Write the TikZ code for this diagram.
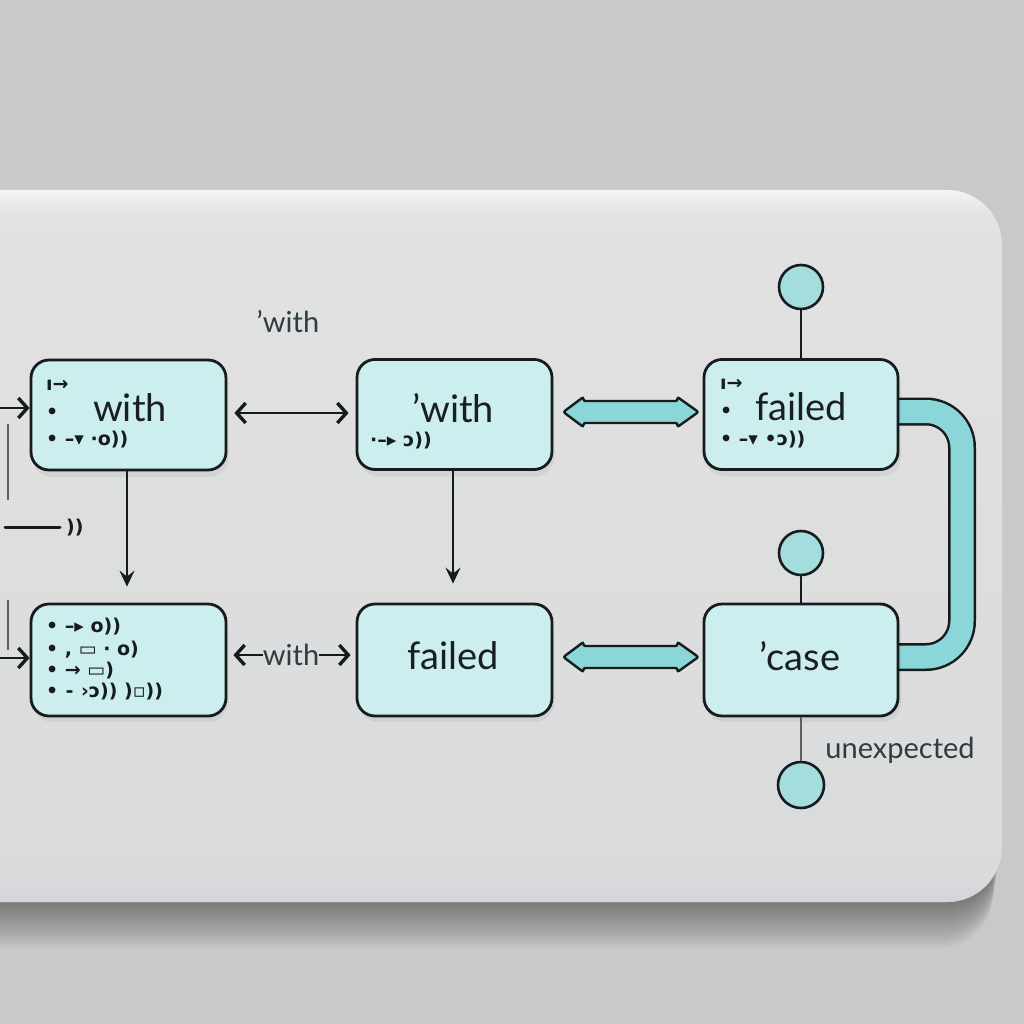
\documentclass[tikz,border=0pt]{standalone}
\usepackage{fontspec}
\setmainfont{Lato}
\newfontfamily\symf{DejaVu Sans}
\usetikzlibrary{arrows.meta}
\definecolor{bgc}{RGB}{203,201,199}
\definecolor{paneltop}{RGB}{226,226,226}
\definecolor{panelbot}{RGB}{217,218,219}
\definecolor{boxc}{RGB}{205,238,239}
\definecolor{cyanc}{RGB}{138,214,216}
\definecolor{circc}{RGB}{163,221,221}
\definecolor{linec}{RGB}{22,28,30}
\definecolor{textc}{RGB}{25,30,34}
\definecolor{labc}{RGB}{48,60,68}
\tikzset{
  box/.style={draw=linec, line width=2.8pt, fill=boxc, rounded corners=18pt,
    minimum width=195pt, minimum height=110pt, inner sep=0pt},
  circ/.style={circle, draw=linec, line width=2.6pt, fill=circc, minimum size=44pt, inner sep=0pt},
  maintxt/.style={font=\fontsize{38}{42}\selectfont, text=textc, inner sep=0pt},
  labtxt/.style={font=\fontsize{29}{32}\selectfont, text=labc, inner sep=0pt},
  marks/.style={font=\symf\bfseries\fontsize{19}{21}\selectfont, text=linec, anchor=west, inner sep=0pt},
  conn/.style={draw=linec, line width=2.6pt},
  chev/.style={-{Straight Barb[length=9pt,width=20pt,line width=3.4pt]}},
  dchev/.style={{Straight Barb[length=9pt,width=20pt,line width=3.4pt]}-{Straight Barb[length=9pt,width=20pt,line width=3.4pt]}},
  downarr/.style={-{Stealth[length=16pt,width=15pt,inset=6pt]}},
  fat/.style={draw=linec, line width=2.4pt, fill=cyanc, rounded corners=2pt},
  thinl/.style={draw=linec!70, line width=1.2pt},
}
\begin{document}
\begin{tikzpicture}[x=1pt,y=-1pt]
\useasboundingbox (0,0) rectangle (1024,1024);
\fill[bgc] (0,0) rectangle (1024,1024);
% soft shadow below panel
\foreach \i in {1,...,18}
  \fill[black, opacity=0.024, rounded corners=55pt] (-60,200) rectangle (1000-0.4*\i, 902+2.6*\i);
% panel
\shade[top color=paneltop, bottom color=panelbot, rounded corners=55pt] (-60,190) rectangle (1002,902);
\begin{scope}
  \clip[rounded corners=55pt] (-60,190) rectangle (1002,902);
  \shade[top color=white!60!paneltop, bottom color=paneltop] (-60,190) rectangle (1002,215);
  \shade[top color=panelbot, bottom color=black!10!blue!3!panelbot] (-60,880) rectangle (1002,902);
\end{scope}

% pipe between C and F
\coordinate (p1) at (898,411.5);
\coordinate (p2) at (898,657);
\draw[linec, line width=28pt, rounded corners=36pt] (p1) -- (962,411.5) -- (962,657) -- (p2);
\draw[cyanc, line width=23pt, rounded corners=36pt] (p1) -- (962,411.5) -- (962,657) -- (p2);

% box shadows
\foreach \x/\y in {128.5/415, 454.5/414.5, 801/414.5, 128.5/660, 454.5/660, 801/660}
  \fill[black, opacity=0.05, rounded corners=20pt] (\x-96,\y-50) rectangle (\x+100,\y+62);

% boxes
\node[box] (A) at (128.5,415) {};
\node[box] (B) at (454.5,414.5) {};
\node[box, minimum width=194pt] (C) at (801,414.5) {};
\node[box, minimum height=112pt] (D) at (128.5,660) {};
\node[box, minimum height=112pt] (E) at (454.5,660) {};
\node[box, minimum width=194pt, minimum height=112pt] (F) at (801,660) {};

% circles
\node[circ] (c1) at (801,287) {};
\node[circ] (c2) at (801,553) {};
\node[circ, minimum size=46pt] (c3) at (801,785) {};
\draw[conn, line width=2.2pt] (c1) -- (C);
\draw[conn, line width=2.2pt] (c2) -- (F);
\draw[thinl] (F) -- (c3);

% main texts
\node[maintxt] (tA) at (130,408) {with};
\node[maintxt] (tB) at (453,408) {’with};
\node[maintxt] (tC) at (801,407) {failed};
\node[maintxt] (tE) at (453,656) {failed};
\node[maintxt] (tF) at (800,656) {’case};

% marks in boxes
\node[marks] (mA1) at (46,385) {ı→};
\node[marks] (mA2) at (46,413) {•};
\node[marks] (mA3) at (46,440) {• –▾ ·o))};
\node[marks] (mB1) at (370,441) {·–▸ ɔ))};
\node[marks] (mC1) at (720,384) {ı→};
\node[marks] (mC2) at (720,412) {•};
\node[marks] (mC3) at (720,440) {• –▾ •ɔ))};
\node[marks] (mD1) at (46,627) {• –▸ o))};
\node[marks] (mD2) at (46,650) {•  ,  ▭ · o)};
\node[marks] (mD3) at (46,671) {• → ▭)};
\node[marks] (mD4) at (46,692) {• ⁃ ›ɔ)) )▫))};

% labels
\node[labtxt] (lw) at (288,322) {’with};
\node[labtxt] (lu) at (900,750) {unexpected};
\node[labtxt] (w2) at (291,655) {with};

% connectors
\draw[conn, dchev, shorten <=7pt, shorten >=7pt] (A.east |- 0,413) -- (B.west |- 0,413);
\draw[conn, line width=2.4pt, chev] (w2.west) -- ([xshift=6pt]D.east |- w2.west);
\draw[conn, line width=2.4pt, chev] (w2.east) -- ([xshift=-5pt]E.west |- w2.east);
\draw[conn, line width=2pt, downarr, shorten >=16pt] (A.south -| 127,0) -- (D.north -| 127,0);
\draw[conn, line width=2pt, downarr, shorten >=19pt] (B.south -| 453,0) -- (E.north -| 453,0);

% fat double arrows
\draw[fat] ([xshift=10pt]B.east |- 0,412) -- ++(20,-15) -- ++(0,4) -- ++(94,0) -- ++(0,-4)
  -- ++(21,15) -- ++(-21,15) -- ++(0,-4) -- ++(-94,0) -- ++(0,4) -- cycle;
\draw[fat] ([xshift=10pt]E.east |- 0,657) -- ++(20,-15) -- ++(0,4) -- ++(94,0) -- ++(0,-4)
  -- ++(21,15) -- ++(-21,15) -- ++(0,-4) -- ++(-94,0) -- ++(0,4) -- cycle;

% left edge fragments
\coordinate (lA) at (0,408);
\coordinate (lD) at (0,658);
\draw[conn, line width=2.6pt, chev] (lA) -- (A.west |- lA);
\draw[conn, line width=2.6pt, chev] (lD) -- (D.west |- lD);
\coordinate (v1) at (8,424);
\coordinate (v2) at (8,500);
\coordinate (v3) at (8,600);
\coordinate (v4) at (8,650);
\draw[thinl] (v1) -- (v2);
\draw[thinl] (v3) -- (v4);
\coordinate (h1) at (5,527);
\coordinate (h2) at (60,527);
\draw[conn, line width=3pt, line cap=round] (h1) -- (h2);
\node[marks] (hp) at (66,528) {))};
\end{tikzpicture}
\end{document}
